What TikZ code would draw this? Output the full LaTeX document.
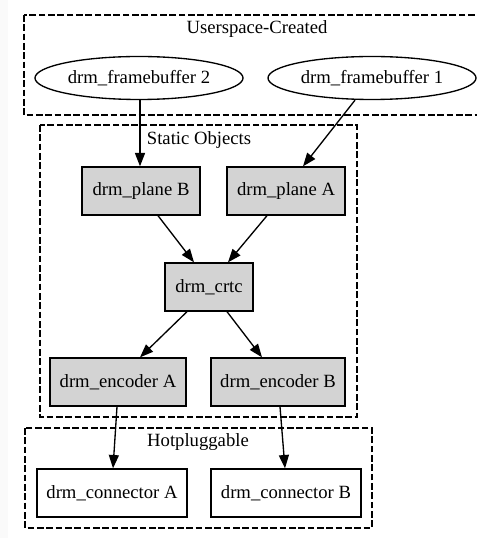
\documentclass[tikz,border=0pt]{standalone}
\usepackage{fontspec}
\setmainfont{Liberation Serif}
\usepackage{xcolor}
\usetikzlibrary{
  arrows.meta,
  shapes
}

\begin{document}
\begin{tikzpicture}[x=0.75pt, y=-0.75pt,
  every node/.style = {font=\fontsize{14}{16}\selectfont, inner sep=0pt},
  kms/.style = {shape=rectangle, draw, line width=1pt,
    fill={rgb,255:red,211;green,211;blue,211}, minimum height=36pt},
  plug/.style = {shape=rectangle, draw, line width=1pt, fill=white,
    minimum width=112.5pt, minimum height=36pt},
  fb/.style = {shape=ellipse, draw, line width=1pt, fill=white,
    minimum width=156pt, minimum height=32.25pt},
  edge/.style = {line width=1pt, -{Triangle[length=10pt, width=7.5pt]}}]
    \tikzstyle{cluster}=[draw, line width=1pt, dash pattern=on 5pt off 2pt]
  \useasboundingbox (0,0) rectangle (477,538);
  \fill[gray!4] (0,0) rectangle (8,538);
  % clusters
  \draw[cluster] (24,15) rectangle (490,115);
  \node (lbluser) at (257,29) {Userspace-Created};
  \draw[cluster] (40,125) rectangle (357,417);
  \node (lblstatic) at (199,140) {Static Objects};
  \draw[cluster] (25,428) rectangle (372,528);
  \node (lblhot) at (198,442) {Hotpluggable};
  % objects
  \node[fb] (fbtwo) at (139,78) {drm\_framebuffer 2};
  \node[fb] (fbone) at (372,78) {drm\_framebuffer 1};
  \node[kms, minimum width=88.5pt] (planeB) at (141,191) {drm\_plane B};
  \node[kms, minimum width=88.5pt] (planeA) at (286,191) {drm\_plane A};
  \node[kms, minimum width=66pt] (crtc) at (209,287) {drm\_crtc};
  \node[kms, minimum width=102pt] (encA) at (118,382) {drm\_encoder A};
  \node[kms, minimum width=100.5pt] (encB) at (278,382) {drm\_encoder B};
  \node[plug] (connA) at (112,493) {drm\_connector A};
  \node[plug] (connB) at (286,493) {drm\_connector B};
  % links
  \draw[edge] ([xshift=0.75pt]fbtwo.south) -- ([xshift=-0.75pt]planeB.north);
  \draw[edge] ([xshift=-12.75pt]fbone.south) -- ([xshift=12.75pt]planeA.north);
  \draw[edge] ([xshift=12.75pt]planeB.south) -- ([xshift=-11.25pt]crtc.north);
  \draw[edge] ([xshift=-14.25pt]planeA.south) -- ([xshift=14.25pt]crtc.north);
  \draw[edge] ([xshift=-16.5pt]crtc.south) -- ([xshift=16.5pt]encA.north);
  \draw[edge] ([xshift=13.5pt]crtc.south) -- ([xshift=-12pt]encB.north);
  \draw[edge] ([xshift=-0.75pt]encA.south) -- ([xshift=0.75pt]connA.north);
  \draw[edge] ([xshift=1.5pt]encB.south) -- ([xshift=-0.75pt]connB.north);
\end{tikzpicture}
\end{document}
